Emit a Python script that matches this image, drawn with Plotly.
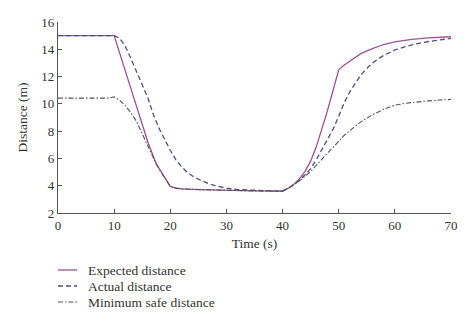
import plotly.graph_objects as go

# Time samples (s) and distances (m) for each series
t_expected = [0, 10, 12, 14, 16, 17.5, 18.5, 20, 21, 22, 25, 30, 35, 40,
              41, 42, 43, 44, 45, 46, 47, 48, 49, 50,
              51, 52, 54, 56, 58, 60, 63, 66, 70]
d_expected = [15.0, 15.0, 12.4, 9.8, 7.2, 5.6, 4.9, 3.95, 3.82, 3.77, 3.72, 3.66, 3.62, 3.6,
              3.8, 4.1, 4.5, 5.05, 5.8, 6.85, 8.1, 9.5, 11.0, 12.5,
              12.85, 13.15, 13.7, 14.05, 14.35, 14.55, 14.72, 14.83, 14.92]

t_actual = [0, 10, 11, 12, 13, 14, 15, 16, 17, 18, 19, 20, 21, 22, 23, 24, 25, 26, 27, 28, 29,
            30, 32, 35, 38, 40,
            41, 42, 43, 44, 45, 46, 47, 48, 49, 50,
            51, 52, 53, 54, 55, 56, 58, 60, 62, 64, 66, 68, 70]
d_actual = [15.0, 15.0, 14.8, 14.2, 13.3, 12.3, 11.4, 10.45, 9.2, 8.2, 7.35, 6.6, 5.9, 5.4, 5.0, 4.7, 4.48, 4.3, 4.12, 4.0, 3.9,
            3.82, 3.72, 3.65, 3.62, 3.6,
            3.8, 4.1, 4.4, 4.8, 5.25, 5.9, 6.65, 7.4, 8.15, 9.1,
            10.1, 10.9, 11.55, 12.15, 12.6, 13.0, 13.55, 13.95, 14.2, 14.42, 14.57, 14.7, 14.8]

t_minsafe = [0, 9, 10, 11, 12, 13, 14, 15, 16, 17, 17.5, 18.5, 20, 21, 22, 25, 30, 35, 40,
             41, 42, 43, 44, 45, 46, 47, 48, 49, 50,
             51, 52, 53, 54, 55, 56, 58, 60, 62, 64, 66, 68, 70]
d_minsafe = [10.42, 10.42, 10.52, 10.25, 9.85, 9.35, 8.7, 7.85, 6.95, 6.1, 5.6, 4.9, 3.95, 3.82, 3.77, 3.72, 3.66, 3.62, 3.6,
             3.8, 4.05, 4.35, 4.7, 5.05, 5.5, 5.95, 6.4, 6.8, 7.25,
             7.7, 8.05, 8.4, 8.7, 8.95, 9.2, 9.6, 9.9, 10.05, 10.15, 10.22, 10.28, 10.32]

series_names = ["Expected distance", "Actual distance", "Minimum safe distance"]

x_ticks = [0, 10, 20, 30, 40, 50, 60, 70]
y_ticks = [2, 4, 6, 8, 10, 12, 14, 16]

FONT = "Liberation Serif"
AXIS_COLOR = "#555555"
TEXT_COLOR = "#333333"

line_styles = [
    dict(color="#a0508e", width=1.3),
    dict(color="#4a5085", width=1.3, dash="5px,3px"),
    dict(color="#555555", width=1.1, dash="5px,2px,1.5px,2px"),
]

fig = go.Figure()
for t, d, name, style in zip([t_expected, t_actual, t_minsafe],
                             [d_expected, d_actual, d_minsafe],
                             series_names, line_styles):
    fig.add_trace(go.Scatter(x=t, y=d, mode="lines", name=name, line=style))

axis_common = dict(
    showgrid=False, zeroline=False, showline=True,
    linecolor=AXIS_COLOR, linewidth=1.3,
    ticks="inside", ticklen=4, tickwidth=1.2, tickcolor=AXIS_COLOR,
    tickfont=dict(family=FONT, size=13, color=TEXT_COLOR),
    title_font=dict(family=FONT, size=13.5, color=TEXT_COLOR),
)

fig.update_xaxes(range=[0, 70], tickvals=x_ticks, title_text="Time (s)",
                 title_standoff=6, **axis_common)
fig.update_yaxes(range=[2, 16], tickvals=y_ticks, title_text="Distance (m)",
                 title_standoff=10, **axis_common)

# Compact legend below the axes: a short key line plus label per series,
# 16 px per row, laid out in paper coordinates.
plot_h = 323 - 22 - 110
plot_w = 474 - 58 - 23
row_px = [57, 73, 89]          # row centres below the x axis (px)
key_x0, key_x1, text_x = 0, 19, 28   # key/label offsets from the y axis (px)
for name, style, off in zip(series_names, line_styles, row_px):
    yy = -off / plot_h
    fig.add_shape(type="line", xref="paper", yref="paper",
                  x0=key_x0 / plot_w, x1=key_x1 / plot_w, y0=yy, y1=yy,
                  line=style)
    fig.add_annotation(xref="paper", yref="paper", x=text_x / plot_w, y=yy,
                       xanchor="left", yanchor="middle", showarrow=False,
                       text=name, font=dict(family=FONT, size=13.5, color=TEXT_COLOR))

fig.update_layout(
    width=474, height=323,
    margin=dict(l=58, r=23, t=22, b=110, autoexpand=False),
    paper_bgcolor="white", plot_bgcolor="white",
    font=dict(family=FONT, size=13, color=TEXT_COLOR),
    showlegend=False,
)

fig.write_html("out.html")
